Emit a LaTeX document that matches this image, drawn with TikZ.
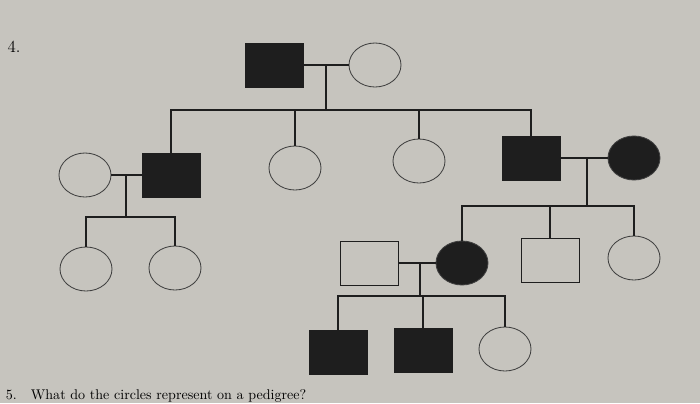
\documentclass[tikz,border=0pt]{standalone}
\usepackage{tikz}
\usetikzlibrary{shapes.geometric}
\definecolor{paper}{RGB}{198,196,190}
\definecolor{ink}{RGB}{30,30,30}
\tikzset{
	male/.style={draw=ink, rectangle, line width=0.6pt, minimum width=1.45cm, minimum height=1.1cm, inner sep=0pt},
	female/.style={draw=ink!85, ellipse, line width=0.6pt, minimum width=1.3cm, minimum height=1.1cm, inner sep=0pt},
	affected/.style={fill=ink},
	link/.style={draw=ink, line width=1.3pt}
}

\begin{document}
\begin{tikzpicture}[x=0.025cm, y=-0.025cm]
	\fill[paper] (0,0) rectangle (700,403);
	\clip (0,0) rectangle (700,403);

	\node (num) at (14,47) [font=\large] {4.};
	\node (quest) at (1,399) [anchor=base west] {5.\hspace{1em}What do the circles represent on a pedigree?};

	\node (I1) at (274,65)   [male, affected] {};
	\node (I2) at (375,65)   [female] {};

	\node (II1) at (85,175)  [female] {};
	\node (II2) at (171,175) [male, affected] {};
	\node (II3) at (295,168) [female] {};
	\node (II4) at (419,161) [female] {};
	\node (II5) at (531,158) [male, affected] {};
	\node (II6) at (634,158) [female, affected] {};

	\node (III1) at (86,269)  [female] {};
	\node (III2) at (175,268) [female] {};
	\node (III3) at (369,263) [male] {};
	\node (III4) at (462,263) [female, affected] {};
	\node (III5) at (550,260) [male] {};
	\node (III6) at (634,258) [female] {};

	\node (IV1) at (338,352) [male, affected] {};
	\node (IV2) at (423,350) [male, affected] {};
	\node (IV3) at (505,349) [female] {};

	\coordinate (m1) at (326,65);
	\coordinate (s1) at (326,110);
	\coordinate (m2) at (126,175);
	\coordinate (s2) at (126,217);
	\coordinate (m3) at (587,158);
	\coordinate (s3) at (587,206);
	\coordinate (m4) at (420,263);
	\coordinate (s4) at (420,296);

	% Draw the couples and their children
	\draw[link] (I1) -- (I2);
	\draw[link] (m1) -- (s1);
	\draw[link] (II2.north) |- (s1) -| (II5.north);
	\draw[link] (II3.north) -- (II3.north |- s1);
	\draw[link] (II4.north) -- (II4.north |- s1);

	\draw[link] (II1) -- (II2);
	\draw[link] (m2) -- (s2);
	\draw[link] (III1.north) |- (s2) -| (III2.north);

	\draw[link] (II5) -- (II6);
	\draw[link] (m3) -- (s3);
	\draw[link] (III4.north) |- (s3) -| (III6.north);
	\draw[link] (III5.north) -- (III5.north |- s3);

	\draw[link] (III3) -- (III4);
	\draw[link] (m4) -- (s4);
	\draw[link] (IV1.north) |- (s4) -| (IV3.north);
	\draw[link] (IV2.north) -- (IV2.north |- s4);
\end{tikzpicture}
\end{document}
